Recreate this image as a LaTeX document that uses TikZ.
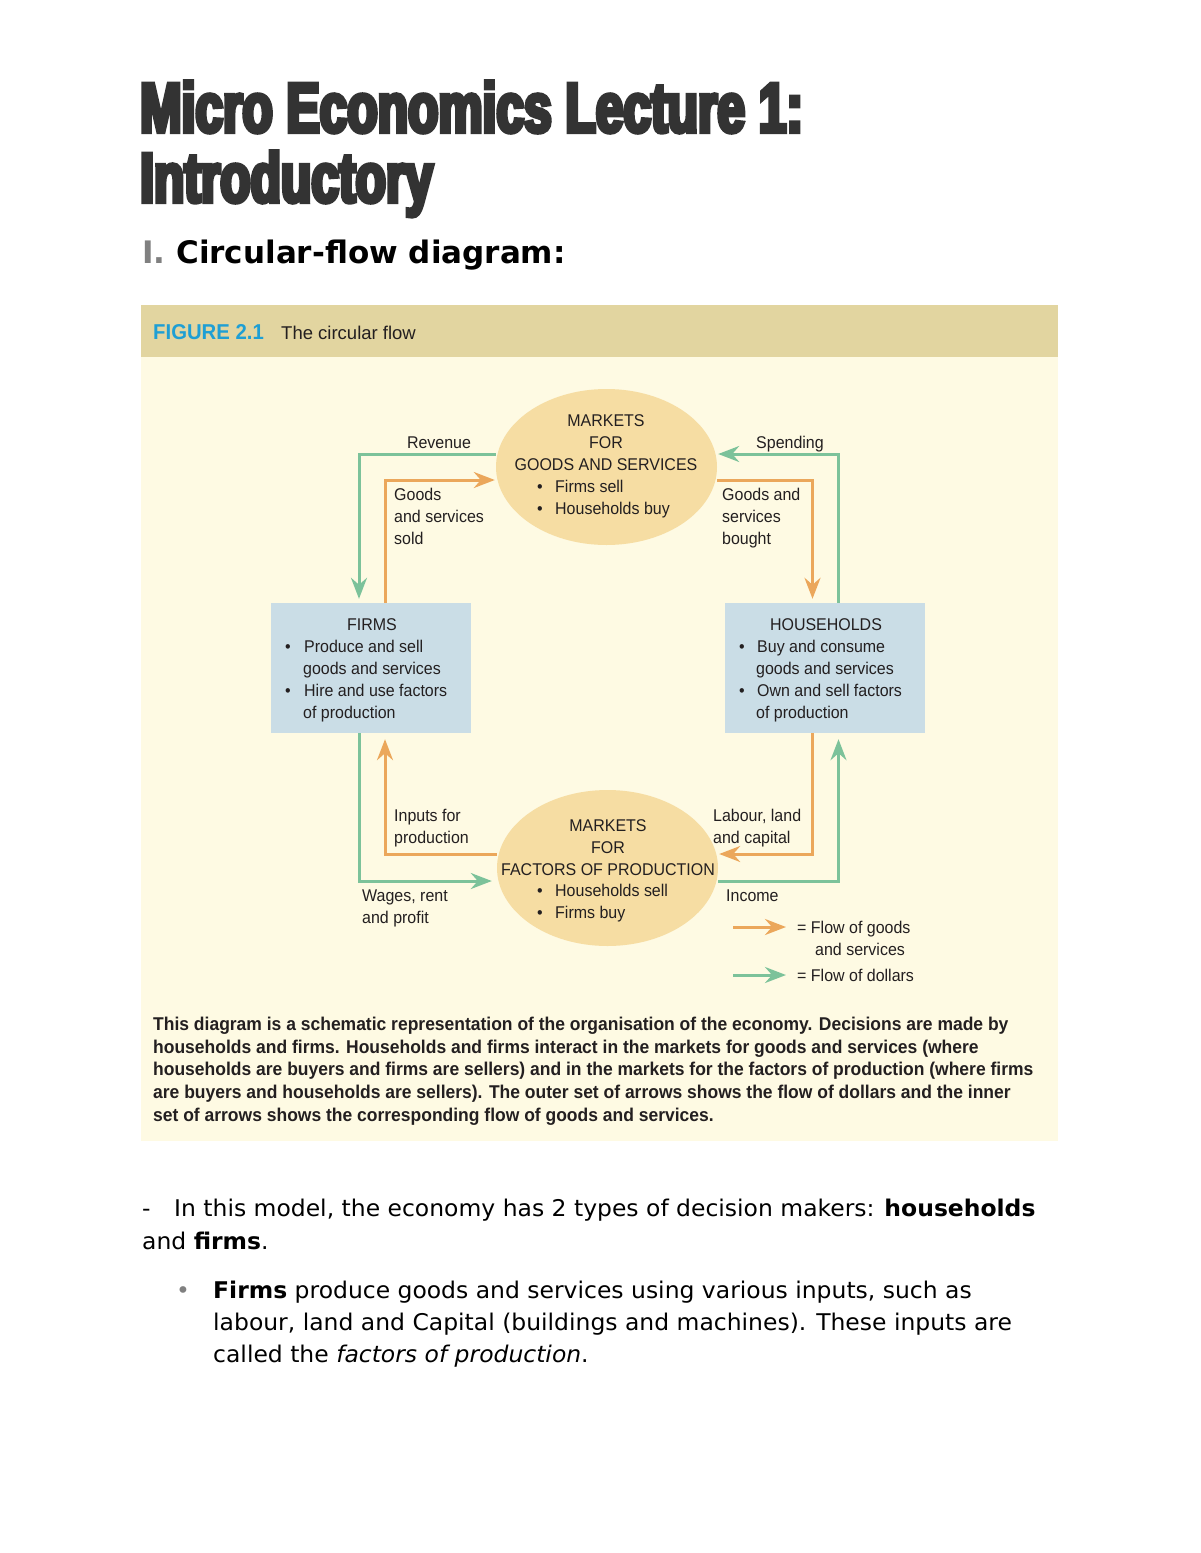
\documentclass[tikz,border=0pt]{standalone}
\usepackage{fontspec}
\setmainfont{DejaVu Sans}
\newfontfamily\bodyf[FakeStretch=1.02]{DejaVu Sans}
\newfontfamily\dfont[FakeStretch=0.94]{Liberation Sans}
\newfontfamily\cfont[FakeStretch=0.945]{Liberation Sans}
\newfontfamily\hfont{Liberation Sans}
\newfontfamily\tfont[FakeStretch=0.71,FakeBold=6]{Liberation Sans Bold}
\usetikzlibrary{arrows.meta,shapes.geometric}
\definecolor{hdr}{HTML}{E2D5A0}
\definecolor{panel}{HTML}{FEFAE3}
\definecolor{ell}{HTML}{F6DDA3}
\definecolor{boxc}{HTML}{CADDE6}
\definecolor{grn}{HTML}{7CC29A}
\definecolor{org}{HTML}{EBA75B}
\definecolor{figblue}{HTML}{1E9FD4}
\definecolor{txt}{HTML}{231F20}
\definecolor{ttl}{HTML}{333333}
\newcommand\dsz{\fontsize{17}{20}\selectfont}
\newcommand\bsz{\fontsize{23}{27}\selectfont}
\tikzset{
  lab/.style={anchor=base west, inner sep=0pt, font=\dfont\dsz, text=txt},
  ctr/.style={anchor=base, inner sep=0pt, font=\dfont\dsz, text=txt},
  captext/.style={anchor=base west, inner sep=0pt, font=\cfont\bfseries\fontsize{18.5}{21}\selectfont, text=txt},
  bodytext/.style={anchor=base west, inner sep=0pt, font=\bodyf\bsz, text=black},
  mkt/.style={ellipse, fill=ell, minimum width=221pt, minimum height=156pt, inner sep=0pt},
  actor/.style={rectangle, fill=boxc, minimum width=200pt, minimum height=130pt, inner sep=0pt},
  tipstyle/.style={-{Stealth[length=21pt,width=16pt,inset=7pt]}},
  dollar/.style={draw=grn, line width=3pt, tipstyle},
  goods/.style={draw=org, line width=3pt, tipstyle}
}
\begin{document}
\begin{tikzpicture}[x=1pt,y=-1pt]
\fill[white] (0,0) rectangle (1200,1553);
\useasboundingbox (0,0) rectangle (1200,1553);

% title
\node[anchor=base west, inner sep=0pt, text=ttl, font=\tfont\fontsize{70}{70}\selectfont] (t1) at (140,132) {Micro Economics Lecture 1:};
\node[anchor=base west, inner sep=0pt, text=ttl, font=\tfont\fontsize{70}{70}\selectfont] (t2) at (140,202) {Introductory};
\node[anchor=base west, inner sep=0pt, font=\bfseries\fontsize{31}{34}\selectfont] (h1) at (142,263) {\textcolor{gray}{I.} Circular-flow diagram:};

% panel
\fill[hdr] (141,305) rectangle (1058,357);
\fill[panel] (141,357) rectangle (1058,1141);
\node[anchor=base west, inner sep=0pt, text=figblue, font=\cfont\bfseries\fontsize{21.5}{24}\selectfont] (fig) at (153,339) {FIGURE 2.1};
\node[anchor=base west, inner sep=0pt, text=txt, font=\hfont\fontsize{18.5}{21}\selectfont] (figt) at (281,339) {The circular flow};

% main nodes
\node[mkt] (gs) at (606.5,467) {};
\node[mkt] (fp) at (607.5,868) {};
\node[actor] (firms) at (371,668) {};
\node[actor] (hh) at (824.5,668) {};

% connectors
\draw[dollar, shorten >=4pt] ([yshift=13pt]gs.west) -| ([xshift=-12pt]firms.north);
\draw[goods, shorten >=1pt] ([xshift=14pt]firms.north) |- ([yshift=-13pt]gs.west);
\draw[dollar, shorten >=1pt] ([xshift=14pt]hh.north) |- ([yshift=13pt]gs.east);
\draw[goods, shorten >=4pt] ([yshift=-13pt]gs.east) -| ([xshift=-12pt]hh.north);
\draw[dollar, shorten >=5pt] ([xshift=-12pt]firms.south) |- ([yshift=-13pt]fp.west);
\draw[goods, shorten >=6pt] ([yshift=14pt]fp.west) -| ([xshift=14pt]firms.south);
\draw[goods, shorten >=1pt] ([xshift=-12pt]hh.south) |- ([yshift=14pt]fp.east);
\draw[dollar, shorten >=6pt] ([yshift=-13pt]fp.east) -| ([xshift=14pt]hh.south);

% top market text
\node[ctr] (g1) at (606,426) {MARKETS};
\node[ctr] (g2) at (606,448) {FOR};
\node[ctr] (g3) at (606,470) {GOODS AND SERVICES};
\node[lab] (g4b) at (537,492) {•};
\node[lab] (g4) at (555,492) {Firms sell};
\node[lab] (g5b) at (537,514) {•};
\node[lab] (g5) at (555,514) {Households buy};

% labels top
\node[ctr] (rev) at (439,448) {Revenue};
\node[ctr] (spd) at (790,448) {Spending};
\node[lab] (s1) at (394,500) {Goods};
\node[lab] (s2) at (394,522) {and services};
\node[lab] (s3) at (394,544) {sold};
\node[lab] (b1) at (722,500) {Goods and};
\node[lab] (b2) at (722,522) {services};
\node[lab] (b3) at (722,544) {bought};

% firms text
\node[ctr] (f0) at (372,630) {FIRMS};
\node[lab] (f1b) at (285,652) {•};
\node[lab] (f1) at (304,652) {Produce and sell};
\node[lab] (f2) at (303,674) {goods and services};
\node[lab] (f3b) at (285,696) {•};
\node[lab] (f3) at (304,696) {Hire and use factors};
\node[lab] (f4) at (303,718) {of production};

% households text
\node[ctr] (h0) at (826,630) {HOUSEHOLDS};
\node[lab] (h1b) at (739,652) {•};
\node[lab] (h1x) at (757,652) {Buy and consume};
\node[lab] (h2) at (756,674) {goods and services};
\node[lab] (h3b) at (739,696) {•};
\node[lab] (h3) at (757,696) {Own and sell factors};
\node[lab] (h4) at (756,718) {of production};

% bottom labels
\node[lab] (i1) at (394,821) {Inputs for};
\node[lab] (i2) at (394,843) {production};
\node[lab] (l1) at (713,821) {Labour, land};
\node[lab] (l2) at (713,843) {and capital};
\node[ctr] (p1) at (608,831) {MARKETS};
\node[ctr] (p2) at (608,853) {FOR};
\node[ctr] (p3) at (608,875) {FACTORS OF PRODUCTION};
\node[lab] (p4b) at (537,896) {•};
\node[lab] (p4) at (555,896) {Households sell};
\node[lab] (p5b) at (537,918) {•};
\node[lab] (p5) at (555,918) {Firms buy};
\node[lab] (w1) at (362,901) {Wages, rent};
\node[lab] (w2) at (362,923) {and profit};
\node[lab] (inc) at (726,901) {Income};

% legend
\coordinate (lg1s) at (733,927);
\coordinate (lg1e) at (786,927);
\coordinate (lg2s) at (733,975);
\coordinate (lg2e) at (786,975);
\draw[goods] (lg1s) -- (lg1e);
\draw[dollar] (lg2s) -- (lg2e);
\node[lab] (lt1) at (797,933) {= Flow of goods};
\node[lab] (lt2) at (815,955) {and services};
\node[lab] (lt3) at (797,981) {= Flow of dollars};

% caption
\node[captext] (c1) at (153,1030) {This diagram is a schematic representation of the organisation of the economy. Decisions are made by};
\node[captext] (c2) at (153,1053) {households and firms. Households and firms interact in the markets for goods and services (where};
\node[captext] (c3) at (153,1075) {households are buyers and firms are sellers) and in the markets for the factors of production (where firms};
\node[captext] (c4) at (153,1098) {are buyers and households are sellers). The outer set of arrows shows the flow of dollars and the inner};
\node[captext] (c5) at (153,1121) {set of arrows shows the corresponding flow of goods and services.};

% body text
\node[bodytext] (d0) at (142,1216) {-};
\node[bodytext] (d1) at (174,1216) {In this model, the economy has 2 types of decision makers: \textbf{households}};
\node[bodytext] (d2) at (142,1249) {and \textbf{firms}.};
\node[bodytext, text=gray] (e0) at (176,1298) {•};
\node[bodytext] (e1) at (213,1298) {\textbf{Firms} produce goods and services using various inputs, such as};
\node[bodytext] (e2) at (213,1330) {labour, land and Capital (buildings and machines). These inputs are};
\node[bodytext] (e3) at (213,1362) {called the \textit{factors of production}.};
\end{tikzpicture}
\end{document}
